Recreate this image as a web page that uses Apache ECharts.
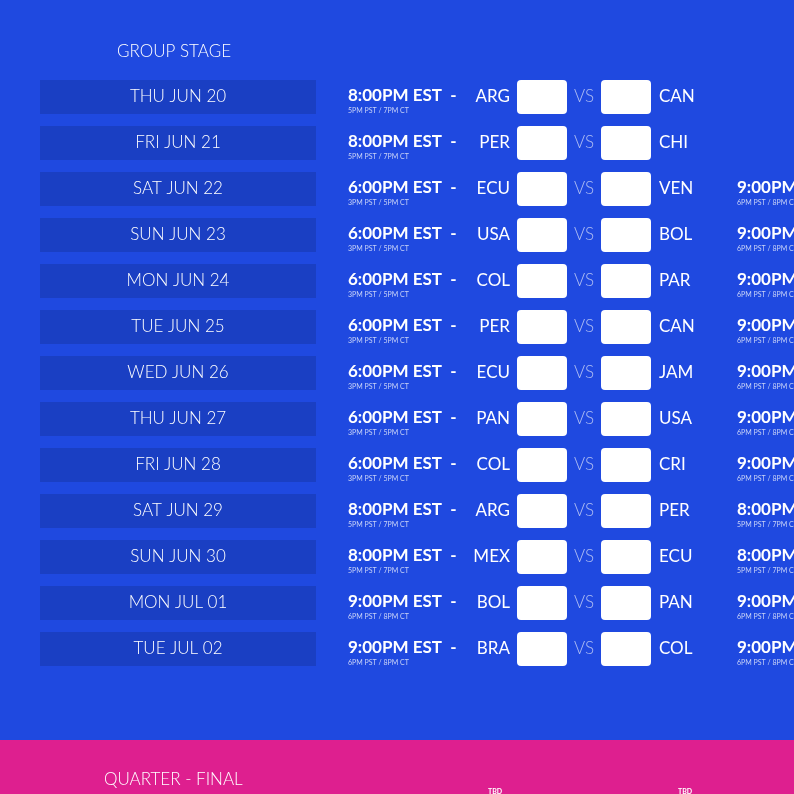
<!DOCTYPE html><html><head><meta charset="utf-8">
<script src="https://cdn.jsdelivr.net/npm/echarts@6/dist/echarts.min.js"></script>
<style>html,body{margin:0;padding:0;background:#1f49e0}#c{width:794px;height:794px}</style></head><body><div id="c"></div>
<script>
const dates=["THU JUN 20","FRI JUN 21","SAT JUN 22","SUN JUN 23","MON JUN 24","TUE JUN 25","WED JUN 26","THU JUN 27","FRI JUN 28","SAT JUN 29","SUN JUN 30","MON JUL 01","TUE JUL 02"];
const times1=["8:00PM EST","8:00PM EST","6:00PM EST","6:00PM EST","6:00PM EST","6:00PM EST","6:00PM EST","6:00PM EST","6:00PM EST","8:00PM EST","8:00PM EST","9:00PM EST","9:00PM EST"];
const subs1=["5PM PST / 7PM CT","5PM PST / 7PM CT","3PM PST / 5PM CT","3PM PST / 5PM CT","3PM PST / 5PM CT","3PM PST / 5PM CT","3PM PST / 5PM CT","3PM PST / 5PM CT","3PM PST / 5PM CT","5PM PST / 7PM CT","5PM PST / 7PM CT","6PM PST / 8PM CT","6PM PST / 8PM CT"];
const homeTeams=["ARG","PER","ECU","USA","COL","PER","ECU","PAN","COL","ARG","MEX","BOL","BRA"];
const awayTeams=["CAN","CHI","VEN","BOL","PAR","CAN","JAM","USA","CRI","PER","ECU","PAN","COL"];
const times2=["","","9:00PM EST","9:00PM EST","9:00PM EST","9:00PM EST","9:00PM EST","9:00PM EST","9:00PM EST","8:00PM EST","8:00PM EST","9:00PM EST","9:00PM EST"];
const subs2=["","","6PM PST / 8PM CT","6PM PST / 8PM CT","6PM PST / 8PM CT","6PM PST / 8PM CT","6PM PST / 8PM CT","6PM PST / 8PM CT","6PM PST / 8PM CT","5PM PST / 7PM CT","5PM PST / 7PM CT","6PM PST / 8PM CT","6PM PST / 8PM CT"];
const F='Lato, "Noto Sans", sans-serif';
const chart=echarts.init(document.getElementById('c'));
chart.setOption({
 backgroundColor:'#1f49e0',
 grid:{left:0,right:0,top:74,height:598},
 xAxis:{type:'value',min:0,max:794,show:false},
 yAxis:{type:'category',data:dates,inverse:true,show:false},
 graphic:[
  {type:'rect',shape:{x:0,y:740,width:794,height:60},style:{fill:'#de1f8f'},z:-1},
  {type:'text',left:117,top:43,style:{text:'GROUP STAGE',fill:'#fff',font:'300 17px '+F}},
  {type:'text',left:104,top:771,style:{text:'QUARTER - FINAL',fill:'#fff',font:'300 17px '+F}},
  {type:'text',left:488,top:788,style:{text:'TBD',fill:'#fff',font:'bold 7px '+F}},
  {type:'text',left:678,top:788,style:{text:'TBD',fill:'#fff',font:'bold 7px '+F}}
 ],
 series:[{type:'custom',coordinateSystem:'cartesian2d',data:dates.map((d,i)=>[0,i]),
  renderItem:function(p,api){
   const i=api.value(1);const y=api.coord([0,i])[1];
   const ch=[
    {type:'rect',shape:{x:40,y:y-17,width:276,height:34},style:{fill:'#1a3fc3'}},
    {type:'text',style:{text:dates[i],x:178,y:y,align:'center',verticalAlign:'middle',fill:'#fff',font:'300 17px '+F}},
    {type:'text',style:{text:times1[i]+'  -',x:348,y:y-1,verticalAlign:'middle',fill:'#fff',font:'bold 17px '+F}},
    {type:'text',style:{text:subs1[i],x:348,y:y+14,verticalAlign:'middle',fill:'#c9d3f7',font:'7px '+F}},
    {type:'text',style:{text:homeTeams[i],x:510,y:y,align:'right',verticalAlign:'middle',fill:'#fff',font:'17px '+F}},
    {type:'rect',shape:{x:517,y:y-17,width:50,height:34,r:4},style:{fill:'#fff'}},
    {type:'text',style:{text:'VS',x:584,y:y,align:'center',verticalAlign:'middle',fill:'#aebcf2',font:'300 17px '+F}},
    {type:'rect',shape:{x:601,y:y-17,width:50,height:34,r:4},style:{fill:'#fff'}},
    {type:'text',style:{text:awayTeams[i],x:659,y:y,verticalAlign:'middle',fill:'#fff',font:'17px '+F}}
   ];
   if(times2[i]){
    ch.push({type:'text',style:{text:times2[i],x:737,y:y-1,verticalAlign:'middle',fill:'#fff',font:'bold 17px '+F}});
    ch.push({type:'text',style:{text:subs2[i],x:737,y:y+14,verticalAlign:'middle',fill:'#c9d3f7',font:'7px '+F}});
   }
   return {type:'group',children:ch};
  }}]
});
</script></body></html>
